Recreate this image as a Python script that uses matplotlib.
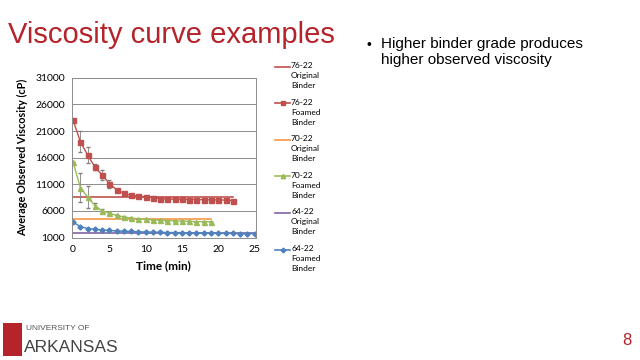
import numpy as np
import matplotlib.pyplot as plt
from matplotlib.patches import Rectangle
from matplotlib.lines import Line2D

# time axis (min)
t_7622 = list(range(0, 23))
t_7022 = list(range(0, 20))
t_6422 = list(range(0, 26))

# foamed binder viscosity (cP)
foam_7622 = [23000, 19000, 16500, 14250, 12750, 11100, 10000, 9300, 8950, 8750, 8700, 8500,
             8300, 8250, 8200, 8200, 8150, 8150, 8100, 8100, 8050, 8050, 7950]
foam_7022 = [15100, 10400, 8600, 7000, 6000, 5600, 5150, 4900, 4650, 4550, 4450, 4350,
             4250, 4200, 4150, 4100, 4050, 4000, 4000, 3950]
foam_6422 = [3900, 3050, 2700, 2550, 2450, 2350, 2250, 2200, 2150, 2100, 2050, 2000, 2000,
             1950, 1950, 1900, 1900, 1850, 1850, 1850, 1800, 1800, 1800, 1750, 1750, 1750]

# error bars (first points only visible)
err_7622 = [0, 2000, 1500, 500, 1000, 700] + [0] * 17
err_7022 = [0, 2800, 2000, 500, 300, 200] + [0] * 14

# original binder (single value, drawn as flat line)
orig_7622 = 8700
orig_7022 = 4450
orig_6422 = 1800

labels = ["76-22\nOriginal\nBinder", "76-22\nFoamed\nBinder",
          "70-22\nOriginal\nBinder", "70-22\nFoamed\nBinder",
          "64-22\nOriginal\nBinder", "64-22\nFoamed\nBinder"]

RED = "#C0504D"
GREEN = "#9BBB59"
BLUE = "#4F81BD"
ORANGE = "#F79646"
PURPLE = "#8064A2"
CARDINAL = "#B5232B"

plt.rcParams['font.family'] = ['Lato', 'DejaVu Sans']

fig = plt.figure(figsize=(6.4, 3.6), dpi=100)
fig.patch.set_facecolor("white")

ax = fig.add_axes([0.112, 0.34, 0.288, 0.444])

ax.plot([0, 22], [orig_7622] * 2, color=RED, lw=1.2)
ax.errorbar(t_7622, foam_7622, yerr=err_7622, fmt="none", ecolor="#7f7f7f", elinewidth=0.6, capsize=1.5)
ax.plot(t_7622, foam_7622, color=RED, marker="s", ms=3.6, lw=1.0, mfc=RED, mec=RED)
ax.plot([0, 19], [orig_7022] * 2, color=ORANGE, lw=1.2)
ax.errorbar(t_7022, foam_7022, yerr=err_7022, fmt="none", ecolor="#7f7f7f", elinewidth=0.6, capsize=1.5)
ax.plot(t_7022, foam_7022, color=GREEN, marker="^", ms=3.6, lw=1.0, mfc=GREEN, mec=GREEN)
ax.plot([0, 25], [orig_6422] * 2, color=PURPLE, lw=1.2)
ax.plot(t_6422, foam_6422, color=BLUE, marker="D", ms=2.6, lw=1.0, mfc=BLUE, mec=BLUE)

ax.set_xlim(-0.2, 25.2)
ax.set_ylim(1000, 31000)
ax.set_xticks([0, 5, 10, 15, 20, 25])
ax.set_yticks(range(1000, 31001, 5000))
ax.tick_params(labelsize=7.5, length=0, pad=5)
ax.grid(axis="y", color="#8c8c8c", lw=0.7)
ax.set_axisbelow(True)
for s in ax.spines.values():
    s.set_color("#8c8c8c")
    s.set_linewidth(0.7)
ax.set_xlabel("Time (min)", fontsize=8.5, fontweight="bold", labelpad=5)
ax.set_ylabel("Average Observed Viscosity (cP)", fontsize=7.8, fontweight="bold", labelpad=5)

# legend drawn by hand so the handle sits on the first line of each label
styles = [(RED, None, 0), (RED, "s", 3.2), (ORANGE, None, 0), (GREEN, "^", 3.2),
          (PURPLE, None, 0), (BLUE, "D", 2.4)]
for i, (lab, (c, m, ms)) in enumerate(zip(labels, styles)):
    y = 1 - (66.5 + 36.6 * i) / 360
    fig.lines.append(Line2D([275 / 640, 290 / 640], [y, y], transform=fig.transFigure,
                            color=c, lw=1.2))
    if m is not None:
        fig.lines.append(Line2D([282.5 / 640], [y], transform=fig.transFigure, color=c,
                                marker=m, ms=ms, lw=0))
    fig.text(291 / 640, y + 4.5 / 360, lab, fontsize=6, va="top", ha="left", linespacing=1.5)

# slide text
fig.text(0.012, 0.903, "Viscosity curve examples", fontsize=21, color=CARDINAL, va="center",
         family="Liberation Sans")
fig.text(0.572, 0.875, "\u2022", fontsize=10, color="black", va="center", family="Liberation Sans")
fig.text(0.595, 0.897, "Higher binder grade produces\nhigher observed viscosity",
         fontsize=11, color="black", va="top", ha="left", linespacing=1.17,
         family="Liberation Sans")

# logo and page number
fig.patches.append(Rectangle((0.004, 0.012), 0.03, 0.09, transform=fig.transFigure,
                             facecolor=CARDINAL, edgecolor="none"))
fig.text(0.04, 0.088, "UNIVERSITY OF", fontsize=6, color="#555555", va="center",
         family="Liberation Sans")
fig.text(0.037, 0.036, "ARKANSAS", fontsize=12.5, color="#444444", va="center",
         family="Liberation Sans")
fig.text(0.98, 0.055, "8", fontsize=12, color=CARDINAL, va="center", ha="center",
         family="Liberation Sans")

fig.savefig("out.png", dpi=100)
